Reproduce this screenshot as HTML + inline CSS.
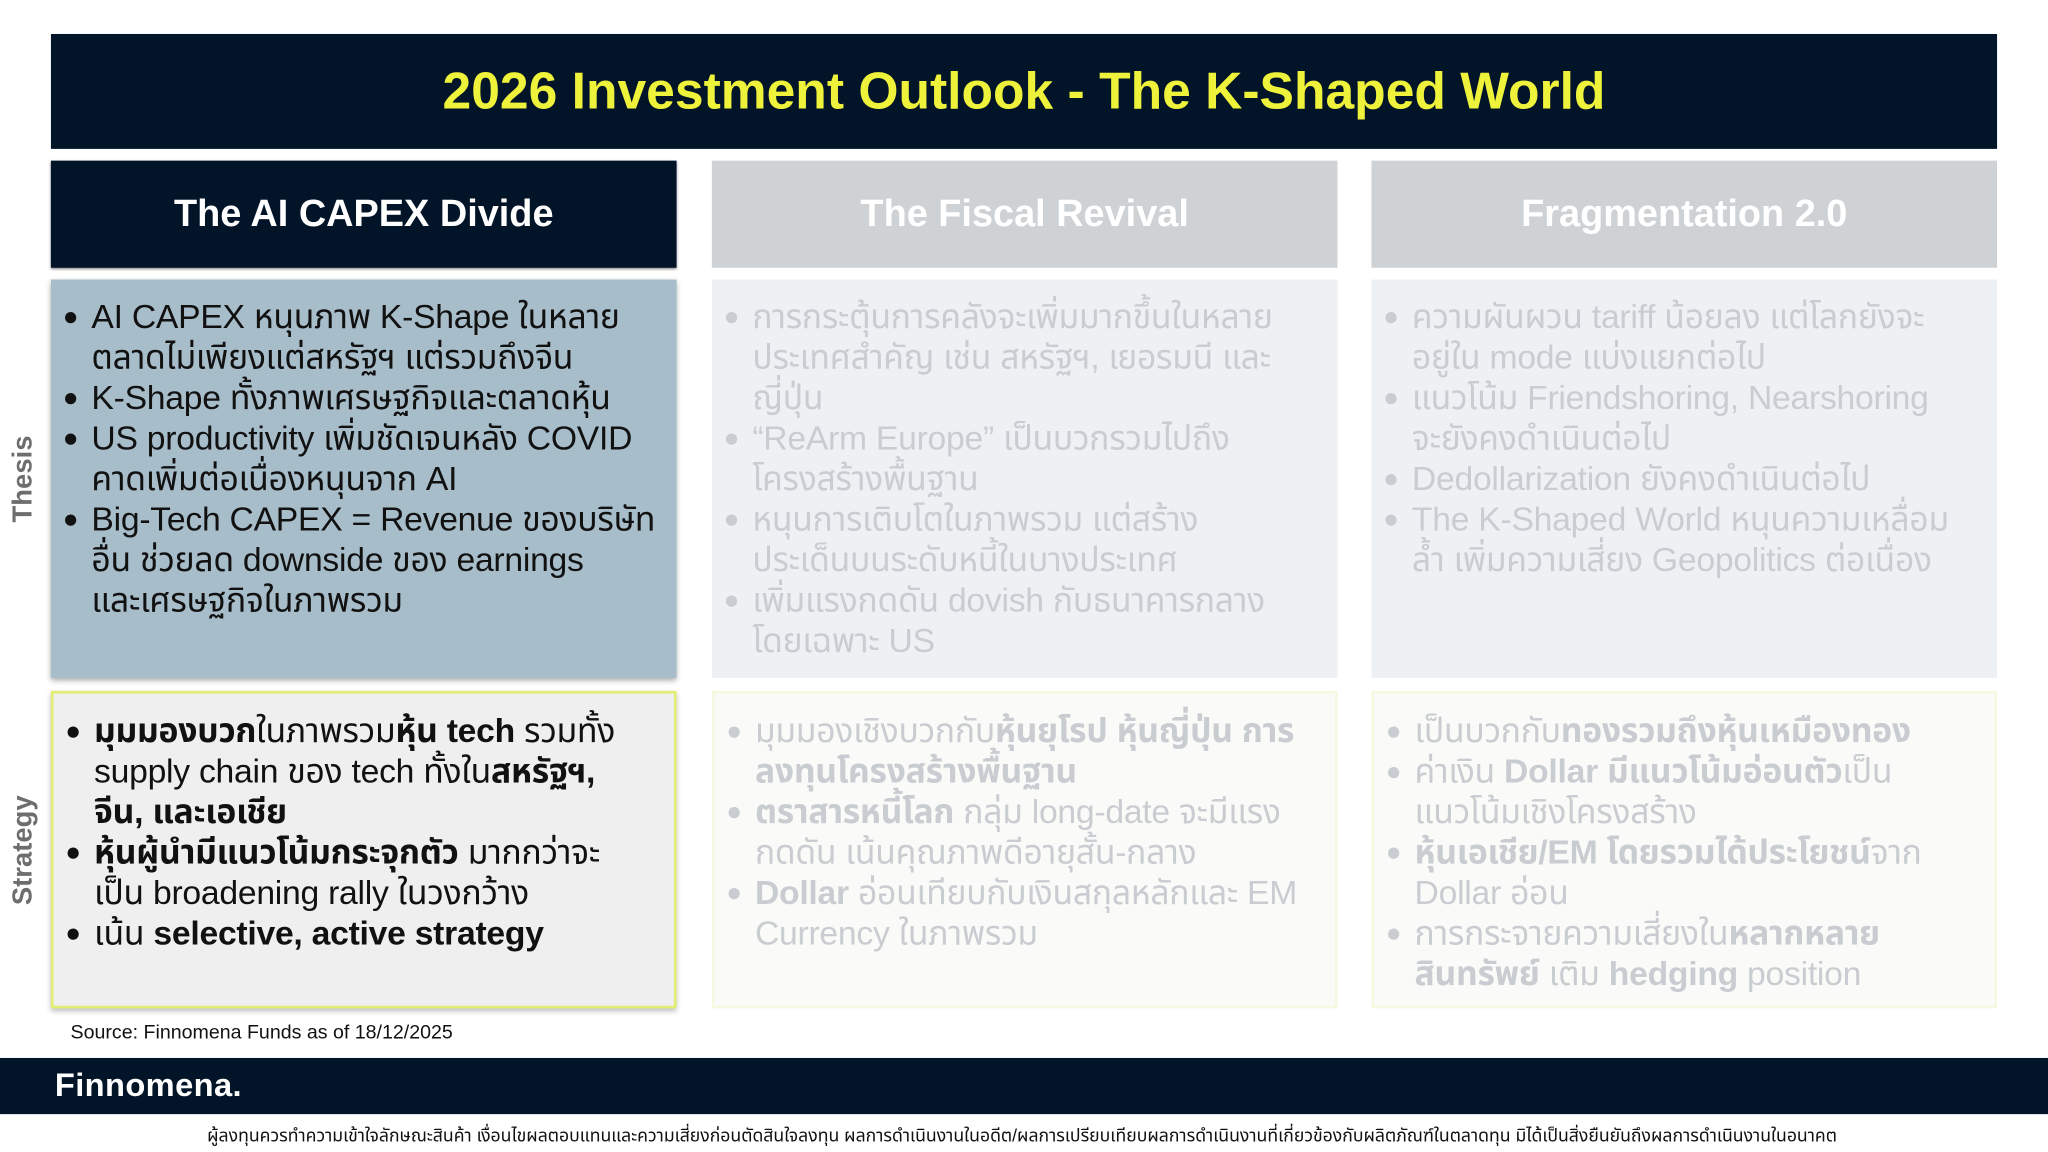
<!DOCTYPE html>
<html><head><meta charset="utf-8"><style>
html,body{margin:0;padding:0;width:2048px;height:1152px;overflow:hidden;background:#fff}
#s{position:absolute;left:0;top:0;width:1568px;height:882px;transform:scale(1.306122);transform-origin:0 0;font-family:"Liberation Sans","Noto Sans Thai","DejaVu Sans",sans-serif}
.a{position:absolute;box-sizing:border-box}
.title{left:39px;top:26px;width:1490px;height:88px;background:#021428;color:#eef23a;font-weight:bold;font-size:39.5px;display:flex;align-items:center;justify-content:center}
.hd{top:123px;height:82px;width:479px;display:flex;align-items:center;justify-content:center;font-weight:bold;font-size:29px;color:#fff}
.box{width:479px;padding:14px 2px 0 9px}
.th{top:214px;height:305px}
.st{top:529px;height:243px;padding-top:14px}
ul{list-style:none;margin:0;padding:0}
li{position:relative;padding-left:22px;font-size:25.8px;line-height:31px;letter-spacing:-0.2px;white-space:nowrap}
li:before{content:"●";position:absolute;left:0;top:0;font-size:20px}
.dim{color:#c9cdd1}
.side{left:0;width:36px;color:#6e6e6e;font-weight:bold;font-size:21px;writing-mode:vertical-rl;transform:rotate(180deg);display:flex;align-items:center;justify-content:center}
</style></head><body>
<div id="s">
<div class="a title">2026 Investment Outlook - The K-Shaped World</div>

<div class="a hd" style="left:39px;background:#021428;box-shadow:0 1px 2px #777">The AI CAPEX Divide</div>
<div class="a hd" style="left:545px;background:#cfd2d5">The Fiscal Revival</div>
<div class="a hd" style="left:1050px;background:#cfd2d5">Fragmentation 2.0</div>

<div class="a side" style="top:214px;height:305px">Thesis</div>
<div class="a side" style="top:529px;height:243px">Strategy</div>

<div class="a box th" style="left:39px;background:#a8bdca;box-shadow:0 2px 4px #aaa;color:#111"><ul>
<li>AI CAPEX หนุนภาพ K-Shape ในหลาย<br>ตลาดไม่เพียงแต่สหรัฐฯ แต่รวมถึงจีน</li>
<li>K-Shape ทั้งภาพเศรษฐกิจและตลาดหุ้น</li>
<li>US productivity เพิ่มชัดเจนหลัง COVID<br>คาดเพิ่มต่อเนื่องหนุนจาก AI</li>
<li>Big-Tech CAPEX = Revenue ของบริษัท<br>อื่น ช่วยลด downside ของ earnings<br>และเศรษฐกิจในภาพรวม</li></ul></div>

<div class="a box th dim" style="left:545px;background:#eef1f3"><ul>
<li>การกระตุ้นการคลังจะเพิ่มมากขึ้นในหลาย<br>ประเทศสำคัญ เช่น สหรัฐฯ, เยอรมนี และ<br>ญี่ปุ่น</li>
<li>“ReArm Europe” เป็นบวกรวมไปถึง<br>โครงสร้างพื้นฐาน</li>
<li>หนุนการเติบโตในภาพรวม แต่สร้าง<br>ประเด็นบนระดับหนี้ในบางประเทศ</li>
<li>เพิ่มแรงกดดัน dovish กับธนาคารกลาง<br>โดยเฉพาะ US</li></ul></div>

<div class="a box th dim" style="left:1050px;background:#eef1f3"><ul>
<li>ความผันผวน tariff น้อยลง แต่โลกยังจะ<br>อยู่ใน mode แบ่งแยกต่อไป</li>
<li>แนวโน้ม Friendshoring, Nearshoring<br>จะยังคงดำเนินต่อไป</li>
<li>Dedollarization ยังคงดำเนินต่อไป</li>
<li>The K-Shaped World หนุนความเหลื่อม<br>ล้ำ เพิ่มความเสี่ยง Geopolitics ต่อเนื่อง</li></ul></div>

<div class="a box st" style="left:39px;background:#efefef;border:2px solid #e2ee72;box-shadow:0 2px 4px #bbb;color:#111"><ul>
<li><b>มุมมองบวก</b>ในภาพรวม<b>หุ้น tech</b> รวมทั้ง<br>supply chain ของ tech ทั้งใน<b>สหรัฐฯ,</b><br><b>จีน, และเอเชีย</b></li>
<li><b>หุ้นผู้นำมีแนวโน้มกระจุกตัว</b> มากกว่าจะ<br>เป็น broadening rally ในวงกว้าง</li>
<li>เน้น <b>selective, active strategy</b></li></ul></div>

<div class="a box st dim" style="left:545px;background:#fafaf8;border:2px solid #f6f8e0"><ul>
<li>มุมมองเชิงบวกกับ<b>หุ้นยุโรป หุ้นญี่ปุ่น การ</b><br><b>ลงทุนโครงสร้างพื้นฐาน</b></li>
<li><b>ตราสารหนี้โลก</b> กลุ่ม long-date จะมีแรง<br>กดดัน เน้นคุณภาพดีอายุสั้น-กลาง</li>
<li><b>Dollar</b> อ่อนเทียบกับเงินสกุลหลักและ EM<br>Currency ในภาพรวม</li></ul></div>

<div class="a box st dim" style="left:1050px;background:#fafaf8;border:2px solid #f6f8e0"><ul>
<li>เป็นบวกกับ<b>ทองรวมถึงหุ้นเหมืองทอง</b></li>
<li>ค่าเงิน <b>Dollar มีแนวโน้มอ่อนตัว</b>เป็น<br>แนวโน้มเชิงโครงสร้าง</li>
<li><b>หุ้นเอเชีย/EM โดยรวมได้ประโยชน์</b>จาก<br>Dollar อ่อน</li>
<li>การกระจายความเสี่ยงใน<b>หลากหลาย</b><br><b>สินทรัพย์</b> เติม <b>hedging</b> position</li></ul></div>

<div class="a" style="left:54px;top:782px;font-size:15px;color:#111">Source: Finnomena Funds as of 18/12/2025</div>
<div class="a" style="left:0;top:810px;width:1568px;height:43px;background:#021428">
<div class="a" style="left:42px;top:7px;color:#fff;font-size:25px;font-weight:bold;letter-spacing:0.3px">Finnomena.</div></div>
<div class="a" style="left:0;top:861px;width:1568px;text-align:center;font-size:13.5px;color:#111;padding-right:3px">ผู้ลงทุนควรทำความเข้าใจลักษณะสินค้า เงื่อนไขผลตอบแทนและความเสี่ยงก่อนตัดสินใจลงทุน ผลการดำเนินงานในอดีต/ผลการเปรียบเทียบผลการดำเนินงานที่เกี่ยวข้องกับผลิตภัณฑ์ในตลาดทุน มิได้เป็นสิ่งยืนยันถึงผลการดำเนินงานในอนาคต</div>
</div>
</body></html>
